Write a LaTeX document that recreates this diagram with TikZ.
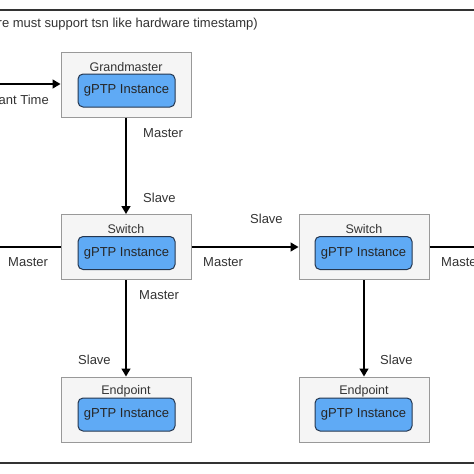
\documentclass[tikz,border=0pt]{standalone}
\usepackage{fontspec}
\setmainfont{Liberation Sans}
\usetikzlibrary{arrows.meta}
\definecolor{boxfill}{HTML}{F5F5F5}
\definecolor{boxline}{HTML}{999999}
\definecolor{instfill}{HTML}{5FAAF5}
\definecolor{instline}{HTML}{24364F}
\definecolor{txt}{HTML}{333333}
\begin{document}
\begin{tikzpicture}[x=1pt,y=-1pt,
  devbox/.style={draw=boxline,fill=boxfill,line width=1pt,minimum width=130pt,minimum height=65pt,inner sep=0pt},
  inst/.style={draw=instline,fill=instfill,line width=1pt,rounded corners=5pt,minimum width=97pt,minimum height=33pt,inner sep=0pt,font=\fontsize{13}{13}\selectfont,text=black!85},
  devlabel/.style={font=\fontsize{12.5}{12.5}\selectfont,text=txt,inner sep=0pt},
  lbl/.style={font=\fontsize{13}{13}\selectfont,text=txt,inner sep=0pt},
  link/.style={line width=1.5pt,draw=black},
  arr/.style={link,-{Triangle[length=8pt,width=9pt]}}]
\useasboundingbox (0,0) rectangle (474,474);
\fill[white] (0,0) rectangle (474,474);
% frame
\draw[line width=1.5pt,draw=black!80] (-5,10) rectangle (479,463);
\node[lbl,anchor=east] (title) at (258,24) {re must support tsn like hardware timestamp)};
% devices
\node[devbox] (gm) at (126,84.5) {};
\node[devlabel] (gmt) at (126,67) {Grandmaster};
\node[inst] (gmi) at (126.5,90.5) {gPTP Instance};
\node[devbox] (s1) at (126,247) {};
\node[devlabel] (s1t) at (126,229) {Switch};
\node[inst] (s1i) at (126.5,253) {gPTP Instance};
\node[devbox] (s2) at (364,247) {};
\node[devlabel] (s2t) at (364,229) {Switch};
\node[inst] (s2i) at (363.5,253) {gPTP Instance};
\node[devbox] (e1) at (126,409.5) {};
\node[devlabel] (e1t) at (126,391) {Endpoint};
\node[inst] (e1i) at (126.5,414.5) {gPTP Instance};
\node[devbox] (e2) at (364,409.5) {};
\node[devlabel] (e2t) at (364,391) {Endpoint};
\node[inst] (e2i) at (363.5,414.5) {gPTP Instance};
% free ends
\coordinate (inL) at (-5,84);
\coordinate (s1L) at (-5,247);
\coordinate (s2R) at (479,247);
% connectors
\draw[arr] (inL) -- (gm.west |- inL);
\draw[arr] (gm.south) -- (s1.north);
\draw[arr] (s1.east) -- (s2.west);
\draw[link] (s1L) -- (s1.west);
\draw[link] (s2.east) -- (s2R);
\draw[arr] (s1.south) -- (e1.north);
\draw[arr] (s2.south) -- (e2.north);
% labels
\node[lbl,anchor=east] (l0) at (49,100) {ant Time};
\node[lbl,anchor=west] (l1) at (143,133) {Master};
\node[lbl,anchor=west] (l2) at (143,198) {Slave};
\node[lbl,anchor=west] (l3) at (250,219) {Slave};
\node[lbl,anchor=west] (l4) at (203,262) {Master};
\node[lbl,anchor=west] (l5) at (8,262) {Master};
\node[lbl,anchor=west] (l6) at (441,262) {Master};
\node[lbl,anchor=west] (l7) at (139,295) {Master};
\node[lbl,anchor=west] (l8) at (78,360) {Slave};
\node[lbl,anchor=west] (l9) at (380,360) {Slave};
\end{tikzpicture}
\end{document}
